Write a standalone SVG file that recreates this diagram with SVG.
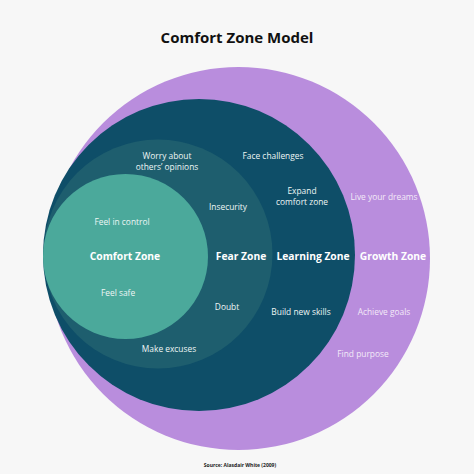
<svg xmlns="http://www.w3.org/2000/svg" width="474" height="474" viewBox="0 0 474 474">
<style>
.t{font-family:"Open Sans","Noto Sans",sans-serif;font-size:8.4px;fill:#eef6f5;text-anchor:middle;dominant-baseline:central}
.g{fill:#f3eaf8}
.b{font-family:"Open Sans","Noto Sans",sans-serif;font-size:10.3px;font-weight:bold;fill:#ffffff;text-anchor:middle;dominant-baseline:central}
</style>
<rect width="474" height="474" fill="#f7f7f7"/>
<text x="237" y="37" font-family="Open Sans, Noto Sans, sans-serif" font-size="15" font-weight="bold" fill="#111" text-anchor="middle" dominant-baseline="central">Comfort Zone Model</text>
<g id="growth-zone">
<circle cx="238.5" cy="258.5" r="191.5" fill="#b98ddd"/>
<text class="b" x="393" y="256">Growth Zone</text>
<text class="t g" x="384" y="196">Live your dreams</text>
<text class="t g" x="384" y="311">Achieve goals</text>
<text class="t g" x="363" y="353">Find purpose</text>
</g>
<g id="learning-zone">
<circle cx="199" cy="255" r="156" fill="#0e4e68"/>
<text class="b" x="313" y="256">Learning Zone</text>
<text class="t" x="273" y="155">Face challenges</text>
<text class="t" x="302" y="190">Expand</text>
<text class="t" x="302" y="201.5">comfort zone</text>
<text class="t" x="301" y="311">Build new skills</text>
</g>
<g id="fear-zone">
<circle cx="158" cy="254" r="114.5" fill="#1e5e6e"/>
<text class="b" x="241" y="256">Fear Zone</text>
<text class="t" x="167" y="155">Worry about</text>
<text class="t" x="167" y="166.5">others’ opinions</text>
<text class="t" x="228" y="206.5">Insecurity</text>
<text class="t" x="227" y="306">Doubt</text>
<text class="t" x="169" y="348">Make excuses</text>
</g>
<g id="comfort-zone">
<circle cx="125.5" cy="256.5" r="82.5" fill="#4ba99b"/>
<text class="b" x="125" y="256">Comfort Zone</text>
<text class="t" x="122" y="221">Feel in control</text>
<text class="t" x="118" y="292">Feel safe</text>
</g>
<g id="connectors"/>
<text x="240" y="465" font-family="Open Sans, Noto Sans, sans-serif" font-size="5" font-weight="bold" fill="#222" text-anchor="middle" dominant-baseline="central">Source: Alasdair White (2009)</text>
</svg>
